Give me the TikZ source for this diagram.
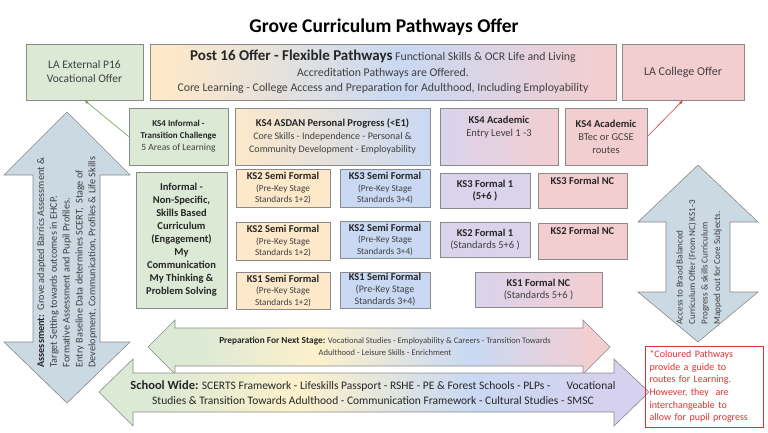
\documentclass[tikz,border=0pt]{standalone}
\usepackage{fontspec}
\setmainfont{Carlito}
\usepackage{tikz}
\usetikzlibrary{arrows.meta}
\usepackage{xcolor}

\definecolor{boxgreen}{HTML}{DCE9D5}
\definecolor{boxorange}{HTML}{FDE8C9}
\definecolor{boxyellow}{HTML}{FCF1CB}
\definecolor{boxblue}{HTML}{C9D9F3}
\definecolor{boxpurple}{HTML}{D9D3EB}
\definecolor{boxpink}{HTML}{F3CED1}
\definecolor{boxlilac}{HTML}{D6D1EE}
\definecolor{arrowgrey}{HTML}{CAD9E2}
\definecolor{edgegrey}{HTML}{8A8A8A}
\definecolor{textgrey}{HTML}{404040}
\definecolor{notered}{HTML}{E0302E}
\definecolor{linkgreen}{HTML}{6E9E4E}
\definecolor{linkred}{HTML}{D8343A}

\pgfdeclarehorizontalshading{postshade}{100bp}{color(0bp)=(boxorange); color(27bp)=(boxorange); color(52bp)=(boxblue); color(73bp)=(boxpink); color(100bp)=(boxpink)}
\pgfdeclarehorizontalshading{prepshade}{100bp}{color(0bp)=(boxgreen); color(30bp)=(boxgreen); color(43bp)=(boxyellow); color(60bp)=(boxblue); color(73bp)=(boxpink); color(100bp)=(boxpink)}
\pgfdeclarehorizontalshading{schoolshade}{100bp}{color(0bp)=(boxgreen); color(30bp)=(boxgreen); color(43bp)=(boxyellow); color(59bp)=(boxblue); color(71bp)=(boxlilac); color(100bp)=(boxlilac)}

\newcommand{\boxhead}[1]{{\fontsize{10.5}{12}\selectfont\bfseries\color{black!85}#1}}
\newcommand{\smallhead}[1]{{\fontsize{9}{12}\selectfont\bfseries\color{black!85}#1}}

\tikzset{
  box/.style={draw=edgegrey, line width=0.6pt, align=center, text=textgrey, inner sep=1pt},
  semibox/.style={box, font=\fontsize{9.2}{11.5}\selectfont},
  bigarrow/.style={draw=edgegrey, line width=0.6pt},
  link/.style={line width=0.6pt, -{Latex[length=4pt,width=3pt]}}
}

\begin{document}
\begin{tikzpicture}[x=1pt,y=-1pt]
  \useasboundingbox (0,0) rectangle (768,432);
  \node[font=\fontsize{19.5}{22}\selectfont\bfseries] (title) at (384,27) {Grove Curriculum Pathways Offer};
  % top row
  \node[box, fill=boxgreen, minimum width=117pt, minimum height=56pt, font=\fontsize{11.5}{14}\selectfont] (laext) at (84.5,72) {LA External P16\\Vocational Offer};
  \node[box, shade, shading=postshade, minimum width=466pt, minimum height=56pt, font=\fontsize{11.8}{15.5}\selectfont] (post) at (383,72) {{\fontsize{15}{16}\selectfont\bfseries\color{black!85}Post 16 Offer - Flexible Pathways} Functional Skills \& OCR Life and Living\\Accreditation Pathways are Offered.\\Core Learning - College Access and Preparation for Adulthood, Including Employability};
  \node[box, fill=boxpink, minimum width=122pt, minimum height=56pt, font=\fontsize{12}{14}\selectfont] (lacol) at (683,72) {LA College Offer};
  % ks4
  \node[box, fill=boxgreen, minimum width=99pt, minimum height=57pt, font=\fontsize{9.5}{12}\selectfont] (ksfourinf) at (178.5,136.5) {\smallhead{KS4 Informal -}\\\smallhead{Transition Challenge}\\5 Areas of Learning};
  \node[box, left color=boxorange, right color=boxblue, minimum width=195pt, minimum height=57pt, font=\fontsize{10}{13}\selectfont] (ksfourasdan) at (332.5,136.5) {\boxhead{KS4 ASDAN Personal Progress (<E1)}\\Core Skills - Independence - Personal \&\\Community Development - Employability};
  \node[box, left color=boxpurple, right color=boxpink, minimum width=118pt, minimum height=57pt, font=\fontsize{10.5}{12.5}\selectfont] (ksfouracad) at (499,136.5) {\boxhead{KS4 Academic}\\Entry Level 1 -3\\[8pt]};
  \node[box, fill=boxpink, minimum width=82pt, minimum height=57pt, font=\fontsize{10.5}{13}\selectfont] (ksfourbtec) at (606,136.5) {\boxhead{KS4 Academic}\\BTec or GCSE\\routes};
  % informal
  \node[box, fill=boxgreen, minimum width=91pt, minimum height=136pt, font=\fontsize{10.5}{13}\selectfont\bfseries, text=black!85] (informal) at (181.5,240) {Informal -\\Non-Specific,\\Skills Based\\Curriculum\\(Engagement)\\My\\Communication\\My Thinking \&\\Problem Solving};
  % semi formal
  \node[semibox, fill=boxorange, minimum width=94pt, minimum height=38pt] (kstwosemia) at (283,188) {\boxhead{KS2 Semi Formal}\\(Pre-Key Stage\\Standards 1+2)};
  \node[semibox, fill=boxblue, minimum width=90pt, minimum height=38pt] (ksthreesemi) at (385,188) {\boxhead{KS3 Semi Formal}\\(Pre-Key Stage\\Standards 3+4)};
  \node[semibox, fill=boxorange, minimum width=94pt, minimum height=38pt] (kstwosemib) at (283,241) {\boxhead{KS2 Semi Formal}\\(Pre-Key Stage\\Standards 1+2)};
  \node[semibox, fill=boxblue, minimum width=90pt, minimum height=37pt] (kstwosemic) at (385,239.5) {\boxhead{KS2 Semi Formal}\\(Pre-Key Stage\\Standards 3+4)};
  \node[semibox, fill=boxorange, minimum width=94pt, minimum height=37pt] (ksonesemia) at (283,290.5) {\boxhead{KS1 Semi Formal}\\(Pre-Key Stage\\Standards 1+2)};
  \node[box, fill=boxblue, minimum width=90pt, minimum height=36pt, font=\fontsize{10}{12}\selectfont] (ksonesemib) at (385,290) {\boxhead{KS1 Semi Formal}\\(Pre-Key Stage\\Standards 3+4)};
  % formal
  \node[box, fill=boxpurple, minimum width=90pt, minimum height=35pt] (ksthreeformal) at (485,190.5) {\boxhead{KS3 Formal 1}\\\boxhead{(5+6 )}};
  \node[box, fill=boxpink, minimum width=89pt, minimum height=35pt] (ksthreenc) at (582.5,190.5) {\boxhead{KS3 Formal NC}\\[8pt]};
  \node[box, fill=boxpurple, minimum width=90pt, minimum height=35pt, font=\fontsize{10.5}{12.5}\selectfont] (kstwoformal) at (485,239.5) {\boxhead{KS2 Formal 1}\\(Standards 5+6 )};
  \node[box, fill=boxpink, minimum width=89pt, minimum height=36pt] (kstwonc) at (582.5,241) {\boxhead{KS2 Formal NC}\\[8pt]};
  \node[box, left color=boxpurple, right color=boxpink, minimum width=127pt, minimum height=35pt, font=\fontsize{10.5}{12.5}\selectfont] (ksonenc) at (538.5,289.5) {\boxhead{KS1 Formal NC}\\(Standards 5+6 )};
  % links
  \draw[link, linkgreen] (ksfourinf.west) -- (laext.south);
  \draw[link, linkred] (ksfourbtec.east) -- (lacol.south);
  % side arrows
  \draw[bigarrow, fill=arrowgrey] (67,112) -- (130,175) -- (100,175) -- (100,342) -- (130,342) -- (67,403) -- (4,342) -- (33,342) -- (33,175) -- (4,175) -- cycle;
  \node[rotate=90, anchor=west, align=left, text=textgrey, font=\fontsize{10.2}{12.8}\selectfont] (assess) at (67,371) {{\bfseries\color{black!85}Assessment:}\ \ Grove adapted Barrics Assessment \&\\Target Setting towards outcomes in EHCP.\\Formative Assessment and Pupil Profiles.\\Entry Baseline Data determines SCERT,\ \ Stage of\\Development, Communication, Profiles \& Life Skills};
  \draw[bigarrow, fill=arrowgrey] (698,165) -- (758,222) -- (730,222) -- (730,292) -- (758,292) -- (698,342) -- (638,292) -- (666,292) -- (666,222) -- (638,222) -- cycle;
  \node[rotate=90, anchor=west, align=left, text=textgrey, font=\fontsize{9.1}{12.5}\selectfont] (access) at (699,328) {Access to Braod Balanced\\Curriculum Offer (From NC) KS1-3\\Progress \& skills Curriculum\\Mapped out for Core Subjects.};
  % bottom arrows
  \shadedraw[bigarrow, shading=prepshade] (148,347) -- (175,320) -- (175,328) -- (583,328) -- (583,320) -- (610,347) -- (583,374) -- (583,366) -- (175,366) -- (175,374) -- cycle;
  \node[align=center, text=textgrey, font=\fontsize{8.5}{12}\selectfont] (prep) at (385,346) {{\fontsize{9.3}{12}\selectfont\bfseries\color{black!85}Preparation For Next Stage:} Vocational Studies - Employability \& Careers - Transition Towards\\Adulthood - Leisure Skills - Enrichment};
  \shadedraw[bigarrow, shading=schoolshade] (99,392) -- (133,359) -- (133,373) -- (614,373) -- (614,359) -- (649,392) -- (614,426) -- (614,412) -- (133,412) -- (133,426) -- cycle;
  \node[align=center, text=black!85, font=\fontsize{11.5}{15}\selectfont] (school) at (373,393) {{\fontsize{12.5}{15}\selectfont\bfseries School Wide:} SCERTS Framework - Lifeskills Passport - RSHE - PE \& Forest Schools - PLPs -\hspace{1.4em}Vocational\\Studies \& Transition Towards Adulthood - Communication Framework - Cultural Studies - SMSC};
  % note
  \node[draw=notered, line width=0.6pt, text=notered, align=left, text width=109pt, inner sep=4.5pt, minimum height=79pt, font=\fontsize{10}{12.6}\selectfont] (note) at (704,386.5) {*Coloured Pathways\\provide a guide to\\routes for Learning.\\However, they\ \ are\\interchangeable to\\allow for pupil progress};
\end{tikzpicture}
\end{document}
